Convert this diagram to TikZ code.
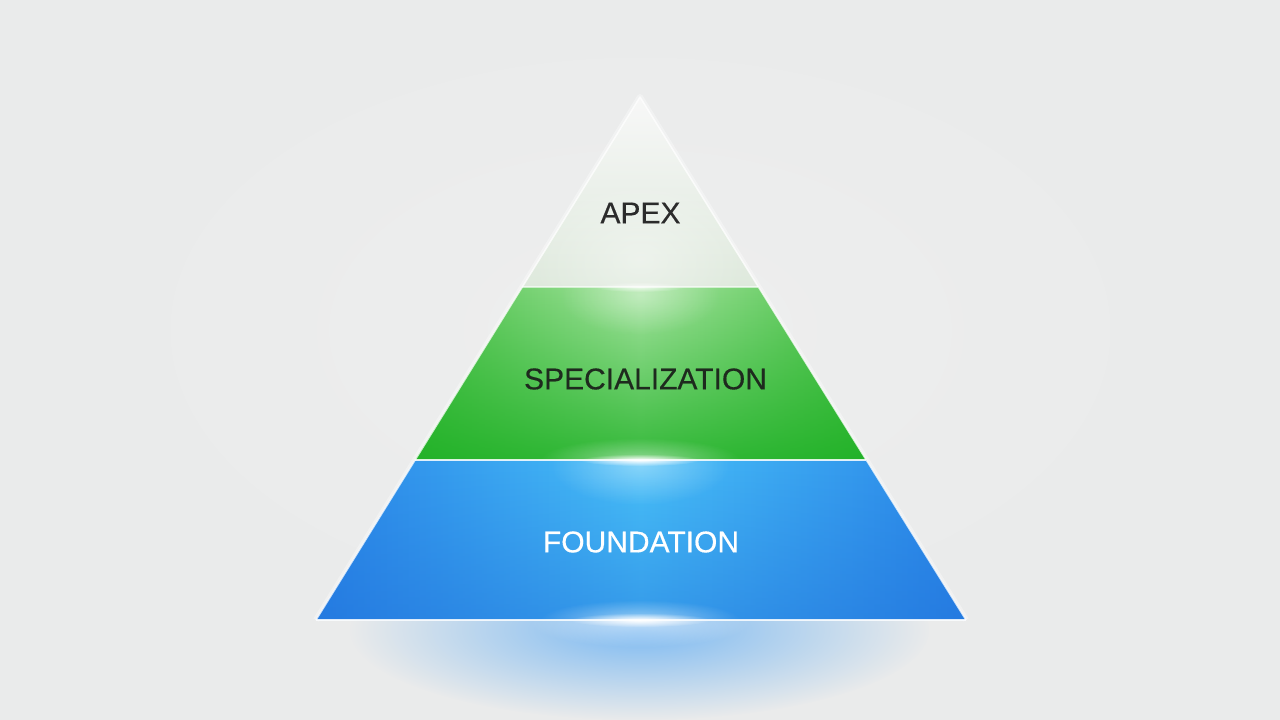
\documentclass[tikz,border=0pt]{standalone}
\usepackage{fontspec}
\setmainfont{Liberation Sans}
\newfontfamily\lblfont[FakeBold=0.4]{Liberation Sans}
\usetikzlibrary{fadings}
\tikzfading[name=glowfade, inner color=transparent!0, outer color=transparent!100]
\tikzfading[name=fadeup, top color=transparent!100, bottom color=transparent!0]
\definecolor{bgc}{HTML}{EAEBEB}
\definecolor{apextxt}{HTML}{2B2B2B}
\definecolor{spectxt}{HTML}{1E2A1E}
\definecolor{gedge}{HTML}{4CC24A}
\definecolor{gmid}{HTML}{A6E4A0}
\definecolor{gdark}{HTML}{18AE20}
\definecolor{bedge}{HTML}{2A86E8}
\definecolor{bmid}{HTML}{48C0F8}
\definecolor{bdark}{HTML}{1E6CD8}
\definecolor{refl}{HTML}{7DBAF2}
\tikzset{
  lbl/.style={inner sep=0pt, font=\lblfont\fontsize{30}{36}\selectfont},
  glowspot/.style={fill=white, path fading=glowfade},
  seam/.style={draw=white, line width=2pt, opacity=0.85},
}
\begin{document}
\begin{tikzpicture}[x=1pt,y=-1pt]
\fill[bgc] (0,0) rectangle (1280,720);
\useasboundingbox (0,0) rectangle (1280,720);
\fill[glowspot, opacity=0.2] (640,330) ellipse (620 and 360);
% geometry
\coordinate (T) at (640,97);
\coordinate (A1) at (522.3,287);
\coordinate (A2) at (758.4,287);
\coordinate (B1) at (415.1,460);
\coordinate (B2) at (866.3,460);
\coordinate (C1) at (316,620);
\coordinate (C2) at (966,620);
% reflection below base
\begin{scope}
\clip (0,620) rectangle (1280,720);
\fill[refl, path fading=glowfade] (640,630) ellipse (290 and 90);
\fill[white, path fading=glowfade, opacity=0.5] (640,622) ellipse (110 and 25);
\end{scope}
% soft edge glow
\draw[white, line width=6pt, opacity=0.35, line join=round] (C1) -- (T) -- (C2);
% apex band
\shade[top color=white!97!black, bottom color={rgb,255:red,222;green,233;blue,220}] (T) -- (A2) -- (A1) -- cycle;
\begin{scope}
\clip (T) -- (A2) -- (A1) -- cycle;
\fill[glowspot, opacity=0.4] (640,260) ellipse (110 and 80);
\end{scope}
% green band
\shade[left color=gedge, right color=gedge, middle color=gmid] (A1) -- (A2) -- (B2) -- (B1) -- cycle;
\fill[gdark, path fading=fadeup, opacity=0.8] (A1) -- (A2) -- (B2) -- (B1) -- cycle;
\begin{scope}
\clip (A1) -- (A2) -- (B2) -- (B1) -- cycle;
\fill[glowspot, opacity=0.35] (640,295) ellipse (80 and 40);
\fill[glowspot, opacity=0.45] (640,460) ellipse (100 and 22);
\end{scope}
% blue band
\shade[left color=bedge, right color=bedge, middle color=bmid] (B1) -- (B2) -- (C2) -- (C1) -- cycle;
\fill[bdark, path fading=fadeup, opacity=0.45] (B1) -- (B2) -- (C2) -- (C1) -- cycle;
\begin{scope}
\clip (B1) -- (B2) -- (C2) -- (C1) -- cycle;
\fill[glowspot, opacity=0.35] (640,465) ellipse (90 and 40);
\fill[glowspot, opacity=0.5] (640,620) ellipse (100 and 20);
\end{scope}
% seams and edges
\draw[seam, line width=1.2pt, opacity=0.6] (A1) -- (A2);
\draw[seam] (B1) -- (B2);
\draw[seam] (C1) -- (C2);
\draw[white, line width=1.5pt, opacity=0.75, line join=round] (C1) -- (T) -- (C2);
\fill[glowspot] (640,460) ellipse (60 and 6);
\fill[glowspot] (640,620) ellipse (70 and 7);
\fill[glowspot, opacity=0.7] (640,287) ellipse (45 and 5);
% labels
\node[lbl, text=apextxt] (apex) at (640.5,213) {APEX};
\node[lbl, text=spectxt] (spec) at (645.5,379) {SPECIALIZATION};
\node[lbl, text=white] (found) at (641,542) {FOUNDATION};
\end{tikzpicture}
\end{document}
